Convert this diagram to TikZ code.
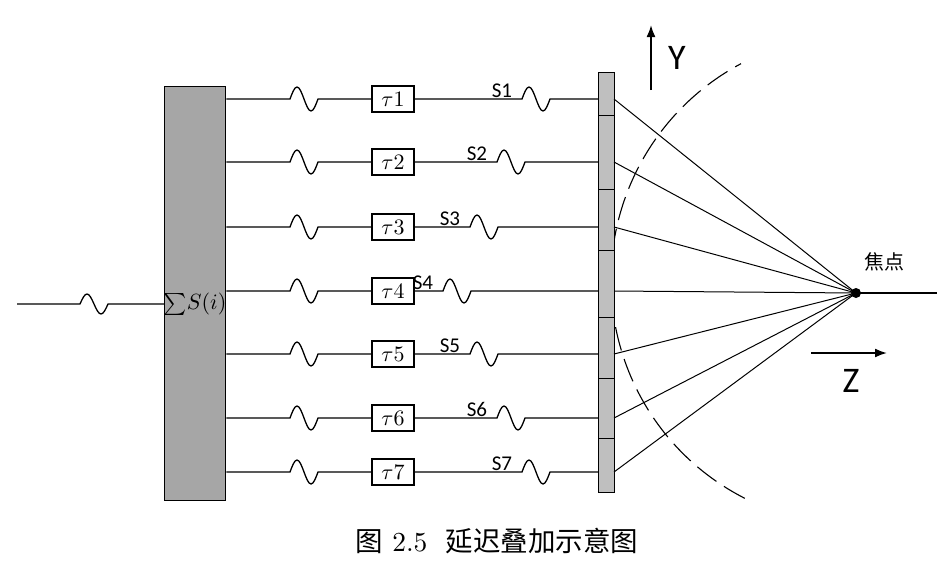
\documentclass[tikz,border=0pt]{standalone}
\usepackage{fontspec}
\usepackage{graphicx}
\usetikzlibrary{arrows.meta}
\newfontfamily\cjk{Noto Sans CJK SC}
\newfontfamily\carl{Carlito}
\begin{document}
\begin{tikzpicture}[x=1pt,y=-1pt,line width=1.3pt,
  tau/.style={draw,fill=white,minimum width=42pt,minimum height=26pt,inner sep=0pt},
  slab/.style={font=\carl\fontsize{21}{21}\selectfont,anchor=south,inner sep=1pt},
  elem/.style={draw,fill=gray!50,minimum width=16pt,inner sep=0pt}]
\useasboundingbox (0,0) rectangle (937,563);
% dashed arc
\draw[dash pattern=on 24pt off 9pt,line width=1.1pt] (856,280) ++(117:245) arc[start angle=117,end angle=242,radius=245];
% summing box
\node[draw,fill=gray!70,minimum width=61pt,minimum height=414pt,inner sep=0pt,anchor=north west] (sum) at (164,86) {};
\node[anchor=west,inner sep=0pt] (sl) at (163,304) {\scalebox{2.2}{$\sum\! S(i)$}};
% input
\coordinate (in) at (17,304);
\draw (in) -- (80,304) sin (87,294) cos (94,304) sin (101,314) cos (108,304) -- (sum.west |- 0,304);
% array elements
\foreach \i/\a/\b in {1/72/115,2/115/189,3/189/250,4/250/317,5/317/378,6/378/438,7/438/492}{
  \node[elem,minimum height={\b-\a},anchor=north west] (e\i) at (598,\a) {};
}
\coordinate (F) at (856,293);
\foreach \i/\y/\w in {1/99/522,2/162/497,3/227/470,4/291/443,5/354/470,6/418/497,7/472/522}{
  \node[tau] (t\i) at (393,\y) {\scalebox{2.2}{$\tau\i$}};
  \draw (sum.east |- 0,\y) -- (290,\y) sin (297,\y-12) cos (304,\y) sin (311,\y+12) cos (318,\y) -- (t\i.west);
  \draw (t\i.east) -- (\w,\y) sin (\w+7,\y-12) cos (\w+14,\y) sin (\w+21,\y+12) cos (\w+28,\y) -- (598,\y);
  \node[slab] (s\i) at (\w-20,\y) {S\i};
  \draw[line width=1pt] (614,\y) -- (F);
}
\draw (F) -- (937,293);
\fill (F) circle (5pt);
\node[font=\cjk\fontsize{20}{20}\selectfont] (fl) at (884,262) {焦点};
% axes
\coordinate (y0) at (651,90); \coordinate (y1) at (651,25);
\draw[-{Latex[length=12pt,width=9pt]},line width=1.8pt] (y0) -- (y1);
\node[font=\carl\fontsize{36}{36}\selectfont] (Y) at (677,58) {Y};
\coordinate (z0) at (811,353); \coordinate (z1) at (887,353);
\draw[-{Latex[length=12pt,width=9pt]},line width=1.8pt] (z0) -- (z1);
\node[font=\carl\fontsize{36}{36}\selectfont] (Z) at (851,381) {Z};
\node (cap) at (497,541) {\scalebox{2.75}{{\cjk 图} 2.5\ \ {\cjk 延迟叠加示意图}}};
\end{tikzpicture}
\end{document}
